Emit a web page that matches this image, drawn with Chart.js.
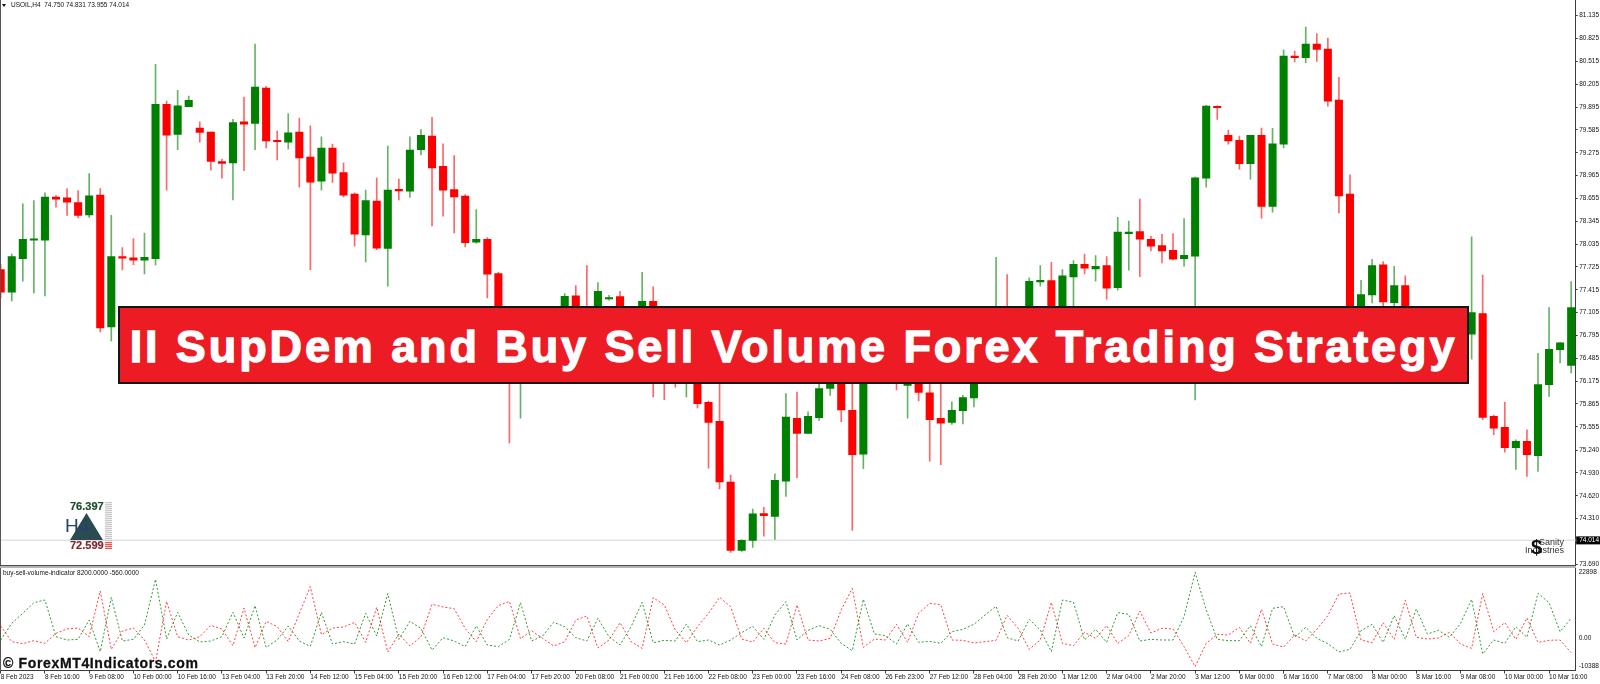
<!DOCTYPE html>
<html>
<head>
<meta charset="utf-8">
<title>II SupDem and Buy Sell Volume Forex Trading Strategy</title>
<script src="https://cdn.jsdelivr.net/npm/chart.js@4/dist/chart.umd.js"></script>
<style>
  html, body { margin: 0; padding: 0; background: #fff; }
  #stage { position: relative; width: 1600px; height: 684px; overflow: hidden; font-family: "Liberation Sans", Arial, sans-serif; color: #111; }
  #stage canvas { position: absolute; left: 0; }
  #priceChart { top: 0; }
  #volumeChart { top: 568px; }
  .abs { position: absolute; white-space: nowrap; }
  #leftEdge { left: 0; top: 0; width: 1px; height: 671px; background: #555; }
  #separator { left: 0; top: 565px; width: 1576px; height: 1px; background: #4a4a4a; border-bottom: 2px solid #b5b5b5; }
  #header { left: 11px; top: 1px; font-size: 6.5px; line-height: 8px; }
  #headerMark { left: 2px; top: 4px; width: 0; height: 0; border: 2.5px solid transparent; border-top: 3px solid #111; }
  #caption { left: 3px; top: 569px; font-size: 6.5px; line-height: 8px; }
  #banner { left: 118px; top: 306px; width: 1347px; height: 74px; background: #ed1c24; border: 2px solid #151515; display: flex; align-items: center; justify-content: center; }
  #banner span { color: #fff; font-weight: bold; font-size: 45px; letter-spacing: 2.9px; -webkit-text-stroke: 1.3px #fff; padding-top: 4px; }
  #watermark { left: 3px; top: 655px; font-size: 14px; font-weight: bold; color: #111; letter-spacing: 0.65px; line-height: 16px; -webkit-text-stroke: 0.3px #111; }
  #supHigh, #supLow { left: 70px; font-size: 11px; font-weight: bold; line-height: 12px; -webkit-text-stroke: 0.2px currentColor; }
  #supHigh { top: 500px; color: #1c4a2c; }
  #supLow { top: 539px; color: #7a2a30; }
  #supTriangle { left: 70px; top: 513px; width: 33px; height: 27px; background: #2b4b50; clip-path: polygon(50% 0, 100% 100%, 0 100%); }
  #supFrame { left: 65px; top: 516px; font-size: 19px; line-height: 20px; color: #25406a; }
  #supBars { left: 105px; top: 502px; width: 7px; height: 39px; background: repeating-linear-gradient(#c8c8c8 0 1px, #eeeeee 1px 2px); }
  #supBarsLow { left: 105px; top: 542px; width: 7px; height: 7px; background: repeating-linear-gradient(#ff5050 0 1px, #ffd0d0 1px 2px); }
  #logoTop { left: 1539px; top: 537px; font-size: 9px; line-height: 10px; color: #333; }
  #logoBottom { left: 1525px; top: 545px; font-size: 9px; line-height: 10px; color: #333; }
  #logoDollar { left: 1531px; top: 535px; font-size: 20px; font-weight: bold; line-height: 24px; color: #111; }
</style>
</head>
<body>
<div id="stage">
  <canvas id="priceChart" width="1600" height="566"></canvas>
  <canvas id="volumeChart" width="1600" height="116"></canvas>
  <div class="abs" id="leftEdge"></div>
  <div class="abs" id="separator"></div>
  <div class="abs" id="headerMark"></div>
  <div class="abs" id="header">USOIL,H4&nbsp; 74.750 74.831 73.955 74.014</div>
  <div class="abs" id="caption">buy-sell-volume-indicator 8200.0000 -560.0000</div>
  <div class="abs" id="supBars"></div>
  <div class="abs" id="supBarsLow"></div>
  <div class="abs" id="supTriangle"></div>
  <div class="abs" id="supFrame">H4</div>
  <div class="abs" id="supHigh">76.397</div>
  <div class="abs" id="supLow">72.599</div>
  <div class="abs" id="logoTop">Sanity</div>
  <div class="abs" id="logoBottom">Industries</div>
  <div class="abs" id="logoDollar">$</div>
  <div class="abs" id="watermark">© ForexMT4Indicators.com</div>
  <div class="abs" id="banner"><span>II SupDem and Buy Sell Volume Forex Trading Strategy</span></div>
</div>

<script>
/* ── Data (candles behind the banner are estimates) ── */

const opens = [
  77.689, 77.381, 77.839, 78.088, 78.088, 78.672, 78.663, 78.599, 78.432, 78.699,
  76.911, 77.866, 77.848, 77.816, 77.839, 79.931, 79.523, 79.899, 79.609, 79.555,
  79.156, 79.138, 79.695, 79.673, 80.153, 79.437, 79.419, 79.555, 79.215, 78.889,
  79.338, 79.007, 78.713, 78.160, 78.618, 77.975, 78.776, 78.753, 79.315, 79.501,
  79.089, 78.776, 78.686, 78.061, 78.101, 77.635, 76.900, 76.600, 76.850, 76.600,
  76.850, 76.950, 77.332, 77.150, 77.050, 77.291, 77.323, 76.850, 76.950, 77.259,
  76.900, 76.600, 76.350, 76.500, 75.887, 75.629, 74.805, 73.877, 74.013, 74.379,
  74.339, 74.819, 75.670, 75.466, 75.679, 76.077, 76.400, 75.778, 75.185, 76.500,
  76.400, 76.500, 76.118, 76.400, 76.018, 75.670, 75.615, 75.774, 75.946, 76.300,
  76.600, 77.000, 76.700, 76.900, 77.522, 77.540, 77.000, 77.590, 77.762, 77.698,
  77.744, 77.445, 78.178, 78.206, 78.101, 78.015, 77.952, 77.839, 77.871, 78.930,
  79.899, 79.510, 79.442, 79.125, 79.510, 78.545, 79.392, 80.587, 80.565, 80.750,
  80.682, 79.990, 78.713, 77.050, 77.345, 77.753, 77.241, 77.472, 77.000, 76.800,
  77.000, 76.850, 76.700, 76.811, 77.092, 75.697, 75.548, 75.271, 75.357, 75.163,
  76.128, 76.603, 76.390,
];
const highs = [
  77.762, 77.898, 78.581, 78.627, 78.731, 78.695, 78.790, 78.763, 78.993, 78.790,
  78.427, 77.988, 78.110, 78.183, 80.474, 79.976, 80.121, 80.044, 79.695, 79.555,
  79.188, 79.727, 80.030, 80.750, 80.175, 79.568, 79.808, 79.745, 79.641, 79.492,
  79.392, 79.134, 78.731, 78.767, 78.930, 79.365, 78.916, 79.492, 79.591, 79.754,
  79.396, 79.238, 78.708, 78.504, 78.124, 77.653, 77.000, 76.950, 77.050, 77.000,
  77.100, 77.363, 77.472, 77.744, 77.513, 77.341, 77.395, 77.100, 77.653, 77.454,
  77.100, 76.850, 76.700, 76.900, 75.905, 76.300, 74.900, 74.020, 74.438, 74.461,
  74.918, 76.005, 76.028, 75.760, 76.300, 76.450, 76.600, 76.300, 76.700, 76.800,
  76.700, 76.800, 76.700, 76.600, 76.300, 76.200, 75.896, 75.982, 76.500, 76.900,
  77.857, 77.621, 77.100, 77.576, 77.744, 77.789, 77.689, 77.812, 77.898, 77.880,
  77.866, 78.400, 78.346, 78.645, 78.142, 78.169, 78.178, 78.382, 78.944, 79.917,
  79.913, 79.582, 79.501, 79.510, 79.609, 79.605, 80.673, 80.655, 80.981, 80.891,
  80.832, 80.298, 78.975, 77.544, 77.830, 77.798, 77.735, 77.603, 77.150, 77.100,
  77.150, 77.100, 77.050, 78.133, 77.613, 75.715, 75.887, 75.380, 75.516, 76.553,
  77.173, 76.703, 77.527,
];
const lows = [
  77.304, 77.264, 77.531, 77.372, 77.332, 78.536, 78.423, 78.391, 78.396, 76.843,
  76.720, 77.685, 77.757, 77.631, 77.753, 78.767, 79.315, 79.899, 79.419, 79.039,
  78.930, 78.636, 79.030, 79.315, 79.342, 79.179, 79.324, 78.808, 77.689, 78.767,
  78.871, 78.676, 78.006, 77.794, 77.961, 77.463, 78.636, 78.667, 79.247, 78.283,
  78.414, 78.187, 77.997, 78.047, 77.304, 76.800, 75.335, 75.674, 76.500, 76.300,
  76.600, 76.800, 76.900, 76.850, 76.950, 77.273, 76.900, 76.700, 76.850, 75.960,
  75.923, 76.095, 75.960, 75.810, 74.995, 74.714, 73.850, 73.863, 73.917, 74.071,
  74.026, 74.610, 74.864, 75.466, 75.643, 75.982, 75.625, 74.148, 74.986, 76.300,
  76.250, 76.055, 75.674, 75.905, 75.090, 75.040, 75.588, 75.593, 75.824, 76.200,
  76.450, 76.500, 76.500, 76.700, 77.463, 76.900, 76.900, 77.150, 77.631, 77.531,
  77.286, 77.409, 77.680, 77.594, 77.943, 77.780, 77.821, 77.735, 75.919, 78.808,
  79.727, 79.392, 79.052, 78.916, 78.387, 78.468, 79.342, 80.506, 80.497, 80.515,
  79.908, 78.459, 76.950, 76.950, 77.237, 77.191, 77.100, 76.900, 76.700, 76.650,
  76.750, 76.600, 76.550, 76.472, 75.652, 75.448, 75.212, 74.977, 74.882, 74.950,
  75.969, 76.422, 76.286,
];
const closes = [
  77.381, 77.866, 78.101, 78.106, 78.672, 78.645, 78.604, 78.423, 78.690, 76.897,
  77.866, 77.843, 77.816, 77.857, 79.931, 79.514, 79.913, 79.985, 79.550, 79.156,
  79.129, 79.686, 79.664, 80.166, 79.437, 79.424, 79.546, 79.206, 78.876, 79.338,
  78.998, 78.699, 78.169, 78.627, 77.979, 78.767, 78.758, 79.310, 79.510, 79.070,
  78.767, 78.676, 78.056, 78.101, 77.626, 76.900, 76.600, 76.850, 76.600, 76.850,
  77.050, 77.327, 77.000, 77.000, 77.395, 77.309, 77.000, 77.050, 77.259, 76.900,
  76.600, 76.350, 76.600, 75.869, 75.615, 74.809, 73.877, 74.013, 74.375, 74.348,
  74.828, 75.688, 75.466, 75.697, 76.073, 76.250, 75.783, 75.176, 76.500, 76.400,
  76.600, 76.300, 76.450, 76.023, 75.652, 75.606, 75.778, 75.951, 76.300, 76.600,
  77.000, 76.700, 77.000, 77.531, 77.544, 77.000, 77.603, 77.762, 77.707, 77.735,
  77.436, 78.197, 78.197, 78.101, 78.006, 77.943, 77.830, 77.884, 78.935, 79.908,
  79.885, 79.437, 79.125, 79.510, 78.545, 79.396, 80.587, 80.565, 80.750, 80.678,
  79.976, 78.690, 77.000, 77.350, 77.744, 77.250, 77.472, 77.000, 76.800, 77.000,
  76.850, 76.700, 76.850, 77.106, 75.683, 75.538, 75.271, 75.357, 75.176, 76.128,
  76.607, 76.694, 77.173,
];

const buyVolume = [
  -435, 5005, 8270, 11750, 12620, 650, -435, -220, 6090, -4240,
  13490, -760, -220, 4460, 19370, -110, 8600, 1200, -1090, -760,
  650, 8600, 220, 10770, -2830, -435, 4130, -760, -2500, 8600,
  -1740, -980, -1740, 8270, 870, 14690, -220, 5660, 3370, -3700,
  330, -760, -2610, 4130, -2070, -2610, -220, 11750, -760, 870,
  5330, 3920, 330, -760, 6640, 650, -2070, 3920, 11860, -1310,
  -540, -760, 4790, -980, -435, -2070, -435, 1960, 4030, -220,
  7720, 12080, -435, 2720, 4240, 3050, -1520, -3920, 12840, 1520,
  980, -1740, 4790, -1200, -870, -1520, 2280, 3050, 4680, 7720,
  10550, 330, -760, 6310, 2830, -4240, 12620, 11860, -435, 3050,
  -1200, 8490, 7940, -760, -220, -435, -435, 7180, 21650, 9360,
  -220, -650, -650, 4240, -2610, 9900, 10440, 435, 3700, 110,
  -1630, -4350, -3480, 2610, 4680, -1200, 7510, -220, 9680, 1520,
  2720, 435, 5000, 12840, -5000, -435, -1520, 3920, 435, 14800,
  11750, 2280, 6640,
];
const sellVolume = [
  4130, -980, -1630, -650, -1520, 1740, 3160, 3480, 650, 15560,
  -3480, 2500, 3480, -435, -7510, 12190, 650, -435, 650, 4350,
  3160, -2280, 10010, -2940, 5660, 3920, -980, 8270, 16970, 1310,
  3480, 3810, 5330, -1200, 10230, -4350, 1520, -2390, 650, 11210,
  10340, 9790, 3370, -980, 6310, 10770, 12190, 0, 2610, 110,
  -2390, -980, 6090, 7400, -3050, -435, 5220, -980, -3160, 13380,
  10990, 2830, -1310, 3920, 8270, 13490, 10440, -110, -1090, 3370,
  -1310, -1740, 10990, -435, -760, 110, 9360, 16430, -2830, -110,
  -435, 4680, -1200, 8270, 11530, 11100, -435, -540, -1410, -980,
  -540, 7620, 3370, -3480, -435, 11860, -1520, -2280, 2070, 110,
  4240, -1520, 980, 9030, 1850, 3370, 3160, -2610, -9140, -1520,
  1410, 1200, 3700, -1520, 9570, -1740, -2720, 1200, -760, 3050,
  7510, 14580, 14910, -435, -1310, 5220, -220, 12510, 435, -110,
  220, 2070, -1740, -3160, 14690, 2280, 5220, -220, 6750, -1200,
  -540, -435, -4570,
];

const LAST_PRICE = 74.014;
const priceTicks = [
  81.135, 80.825, 80.515, 80.205, 79.895, 79.585, 79.275, 78.965, 78.655, 78.345,
  78.035, 77.725, 77.415, 77.105, 76.795, 76.485, 76.175, 75.865, 75.555, 75.240,
  74.930, 74.620, 74.310, LAST_PRICE, 73.690,
];
const volumeTicks = [22898, 0, -10388];
const timeLabels = [
  '8 Feb 2023', '8 Feb 16:00', '9 Feb 08:00', '10 Feb 00:00', '10 Feb 16:00', '13 Feb 04:00',
  '13 Feb 20:00', '14 Feb 12:00', '15 Feb 04:00', '15 Feb 20:00', '16 Feb 12:00', '17 Feb 04:00',
  '17 Feb 20:00', '20 Feb 08:00', '21 Feb 00:00', '21 Feb 16:00', '22 Feb 08:00', '23 Feb 00:00',
  '23 Feb 16:00', '24 Feb 08:00', '26 Feb 23:00', '27 Feb 12:00', '28 Feb 04:00', '28 Feb 20:00',
  '1 Mar 12:00', '2 Mar 04:00', '2 Mar 20:00', '3 Mar 12:00', '6 Mar 00:00', '6 Mar 16:00',
  '7 Mar 08:00', '8 Mar 00:00', '8 Mar 16:00', '9 Mar 08:00', '10 Mar 00:00', '10 Mar 16:00',
];

/* ── Constants ──────────────────────────────────────────────────────────── */

const COLORS = {
    up:       '#008000',
    down:     '#ff0000',
    upWick:   'rgba(0, 128, 0, 0.6)',
    downWick: 'rgba(255, 0, 0, 0.6)',
    buyLine:  'rgba(0, 128, 0, 0.8)',
    sellLine: 'rgba(255, 0, 0, 0.75)',
    axis:     '#3c3c3c',
    text:     '#111111',
    lastLine: '#e2e2e2',
};
const AXIS_FONT = { family: "'Liberation Sans', Arial, sans-serif", size: 6.5 };

// Shared bar index range, chosen so the candle spacing lands on the MT4 grid.
const X_MIN = -0.063;
const X_MAX = 142.41;
const Y_AXIS_WIDTH = 24.3;
const LABEL_EVERY = 4;

Chart.defaults.animation = false;
Chart.defaults.responsive = false;
Chart.defaults.plugins.legend.display = false;
Chart.defaults.plugins.tooltip.enabled = false;

/* ── Helpers ────────────────────────────────────────────────────────────── */

const isUp = i => closes[i] >= opens[i];

// Chart.js insets the plot by half a label; the MT4 panes run edge to edge.
function fitAxis(scale, size) {
    if (scale.isHorizontal()) scale.height = size;
    else scale.width = size;
    scale.paddingTop = scale.paddingBottom = scale.paddingLeft = scale.paddingRight = 0;
}

const sharedX = {
    type: 'linear',
    min: X_MIN,
    max: X_MAX,
    offset: false,
};

// The black box behind the current price tick on the right axis.
const lastPriceBox = {
    id: 'lastPriceBox',
    beforeDraw(chart) {
        const { ctx, scales: { y } } = chart;
        ctx.save();
        ctx.fillStyle = '#000';
        ctx.fillRect(y.left + 0.5, y.getPixelForValue(LAST_PRICE) - 4, y.width, 8);
        ctx.restore();
    },
};

/* ── Price pane ─────────────────────────────────────────────────────────── */

new Chart(document.getElementById('priceChart'), {
    type: 'bar',
    plugins: [lastPriceBox],
    data: {
        datasets: [
            {
                data: opens.map((o, i) => ({ x: i, y: [o, closes[i]] })),
                backgroundColor: opens.map((_, i) => (isUp(i) ? COLORS.up : COLORS.down)),
                barThickness: 7.4,
                minBarLength: 1.4,
                grouped: false,
            },
            {
                data: lows.map((l, i) => ({ x: i, y: [l, highs[i]] })),
                backgroundColor: lows.map((_, i) => (isUp(i) ? COLORS.upWick : COLORS.downWick)),
                barThickness: 1,
                grouped: false,
            },
            {
                type: 'line',
                data: [{ x: X_MIN, y: LAST_PRICE }, { x: X_MAX, y: LAST_PRICE }],
                borderColor: COLORS.lastLine,
                borderWidth: 1.5,
                pointRadius: 0,
            },
        ],
    },
    options: {
        layout: { padding: { top: 0, right: 0, bottom: 0.5, left: 0 } },
        scales: {
            x: { ...sharedX, display: false },
            y: {
                position: 'right',
                min: 73.673,
                max: 81.348,
                afterBuildTicks: scale => { scale.ticks = priceTicks.map(value => ({ value })); },
                afterFit: scale => fitAxis(scale, Y_AXIS_WIDTH),
                border: { color: COLORS.axis, width: 1 },
                grid: { drawOnChartArea: false, tickLength: 2, color: COLORS.axis },
                ticks: {
                    autoSkip: false,
                    font: AXIS_FONT,
                    padding: 1.5,
                    color: ctx => (ctx.tick.value === LAST_PRICE ? '#fff' : COLORS.text),
                    callback: value => value.toFixed(3),
                },
            },
        },
    },
});

/* ── Volume pane ────────────────────────────────────────────────────────── */

new Chart(document.getElementById('volumeChart'), {
    type: 'line',
    data: {
        datasets: [
            {
                data: buyVolume.map((v, i) => ({ x: i, y: v })),
                borderColor: COLORS.buyLine,
                borderWidth: 1,
                borderDash: [2, 2],
                pointRadius: 0,
            },
            {
                data: sellVolume.map((v, i) => ({ x: i, y: v })),
                borderColor: COLORS.sellLine,
                borderWidth: 1,
                borderDash: [2, 2],
                pointRadius: 0,
            },
        ],
    },
    options: {
        layout: { padding: { top: 0.5, right: 0, bottom: 0, left: 0 } },
        scales: {
            x: {
                ...sharedX,
                afterBuildTicks: scale => {
                    scale.ticks = timeLabels.map((_, i) => ({ value: i * LABEL_EVERY }));
                },
                afterFit: scale => fitAxis(scale, 13.5),
                border: { color: COLORS.axis, width: 1 },
                grid: { drawOnChartArea: false, tickLength: 3, color: COLORS.axis },
                ticks: {
                    autoSkip: false,
                    maxRotation: 0,
                    minRotation: 0,
                    align: 'start',
                    font: AXIS_FONT,
                    padding: 0,
                    color: COLORS.text,
                    callback: (value, index) => timeLabels[index],
                },
            },
            y: {
                position: 'right',
                min: volumeTicks[2],
                max: volumeTicks[0],
                afterBuildTicks: scale => { scale.ticks = volumeTicks.map(value => ({ value })); },
                afterFit: scale => fitAxis(scale, Y_AXIS_WIDTH),
                border: { color: COLORS.axis, width: 1 },
                grid: { drawOnChartArea: false, tickLength: 0 },
                ticks: {
                    autoSkip: false,
                    font: AXIS_FONT,
                    padding: 3,
                    color: COLORS.text,
                    // MT4 keeps the end labels inside the pane: a blank line nudges them in.
                    callback: value => {
                        if (value === volumeTicks[0]) return ['', String(value)];
                        if (value === volumeTicks[2]) return [String(value), ''];
                        return value.toFixed(2);
                    },
                },
            },
        },
    },
});
</script>
</body>
</html>
